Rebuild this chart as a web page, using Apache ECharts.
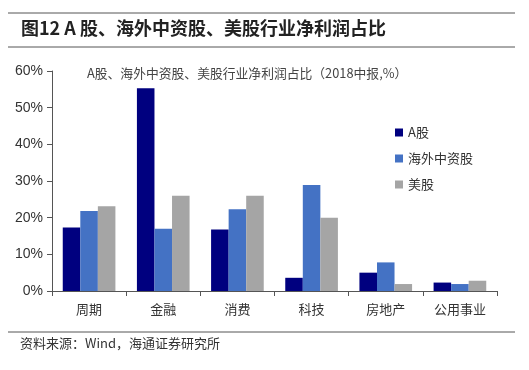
<!DOCTYPE html>
<html>
<head>
<meta charset="utf-8">
<script src="https://cdn.jsdelivr.net/npm/echarts@6/dist/echarts.min.js"></script>
<style>
  html, body { margin: 0; padding: 0; background: #fff; }
  #chart { width: 529px; height: 370px; }
</style>
</head>
<body>
<div id="chart"></div>
<script>
const categories = ['周期', '金融', '消费', '科技', '房地产', '公用事业']
const aShare = [17.3, 55.3, 16.8, 3.6, 5.0, 2.3]
const overseasChinese = [21.8, 17.0, 22.3, 28.9, 7.8, 1.9]
const usShare = [23.1, 26.0, 26.0, 20.0, 1.9, 2.8]
const seriesNames = ['A股', '海外中资股', '美股']
const yTicks = [0, 10, 20, 30, 40, 50, 60]

const font = '"Noto Sans CJK SC", "Liberation Sans", sans-serif'

const chart = echarts.init(document.getElementById('chart'))

chart.setOption({
  animation: false,
  textStyle: { fontFamily: font },
  grid: { left: 52, right: 32, top: 71, bottom: 79 },
  graphic: [
    { type: 'line', shape: { x1: 8, y1: 13, x2: 515, y2: 13 }, style: { stroke: '#555', lineWidth: 1 } },
    { type: 'line', shape: { x1: 8, y1: 47, x2: 515, y2: 47 }, style: { stroke: '#555', lineWidth: 1 } },
    { type: 'text', left: 21, top: 19, style: { text: '图12 A 股、海外中资股、美股行业净利润占比', font: 'bold 18px ' + font, fill: '#222' } },
    { type: 'text', left: 87, top: 67, style: { text: 'A股、海外中资股、美股行业净利润占比（2018中报,%）', font: '12.8px ' + font, fill: '#444' } },
    { type: 'line', shape: { x1: 8, y1: 332, x2: 515, y2: 332 }, style: { stroke: '#555', lineWidth: 1 } },
    { type: 'text', left: 20, top: 337, style: { text: '资料来源：Wind，海通证券研究所', font: '13px ' + font, fill: '#333' } }
  ],
  legend: {
    orient: 'vertical',
    left: 390,
    top: 121,
    itemWidth: 8,
    itemHeight: 8,
    itemGap: 13,
    icon: 'rect',
    data: seriesNames,
    textStyle: { fontSize: 13, color: '#333', fontFamily: font }
  },
  xAxis: {
    type: 'category',
    data: categories,
    axisLine: { lineStyle: { color: '#555' } },
    axisTick: { show: true, length: 5, lineStyle: { color: '#555' } },
    axisLabel: { fontSize: 13, color: '#333', margin: 12, fontFamily: font }
  },
  yAxis: {
    type: 'value',
    min: yTicks[0],
    max: yTicks[yTicks.length - 1],
    interval: 10,
    splitLine: { show: false },
    axisLine: { show: true, lineStyle: { color: '#555' } },
    axisTick: { show: true, length: 5, lineStyle: { color: '#555' } },
    axisLabel: { fontSize: 14, color: '#333', margin: 9, formatter: '{value}%', fontFamily: '"Liberation Sans", sans-serif' }
  },
  series: [
    { name: seriesNames[0], type: 'bar', data: aShare, itemStyle: { color: '#00007F' }, barGap: '0%', barCategoryGap: '29%' },
    { name: seriesNames[1], type: 'bar', data: overseasChinese, itemStyle: { color: '#4472C4' } },
    { name: seriesNames[2], type: 'bar', data: usShare, itemStyle: { color: '#A5A5A5' } }
  ]
})
</script>
</body>
</html>
